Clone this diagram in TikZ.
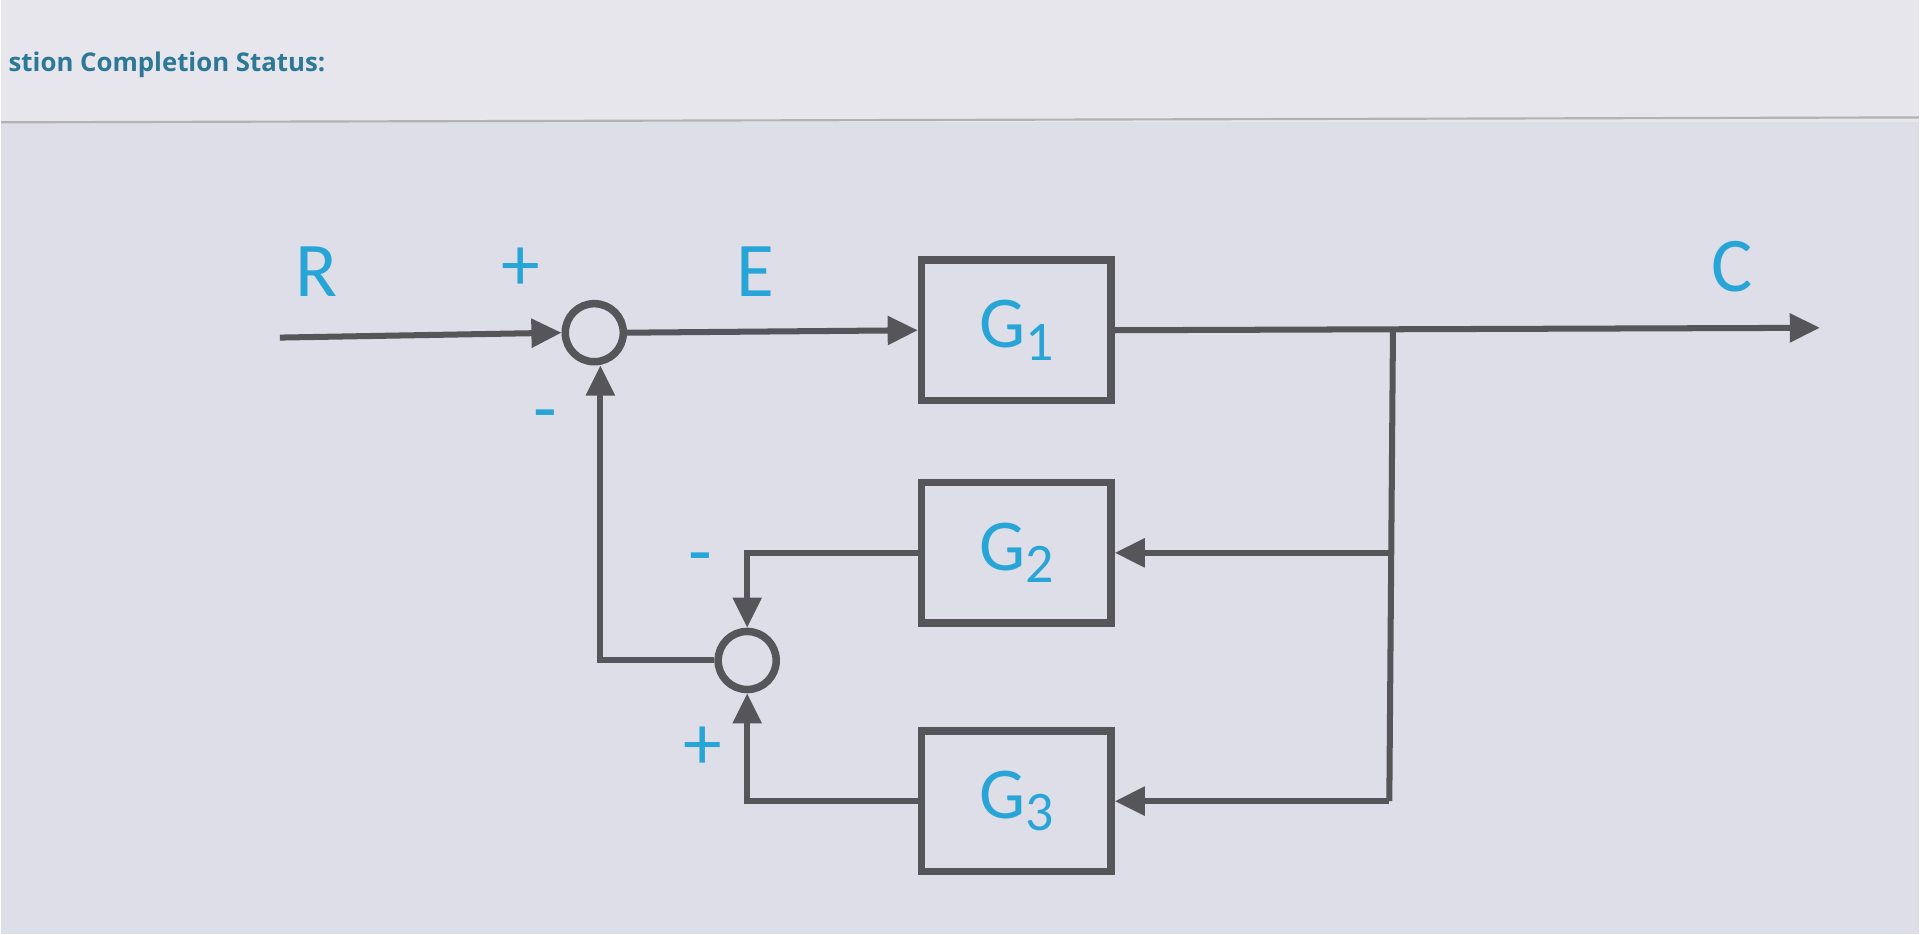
\documentclass[tikz,border=0pt]{standalone}
\usepackage{fontspec}
\setmainfont{Carlito}
\newfontfamily\hdr{Open Sans}
\usetikzlibrary{arrows.meta}
\definecolor{bg}{RGB}{222,222,232}
\definecolor{hd}{RGB}{230,230,236}
\definecolor{ln}{RGB}{85,85,90}
\definecolor{cy}{RGB}{40,165,215}
\definecolor{tl}{RGB}{45,120,150}
\newcommand{\sbx}[1]{\raisebox{-0.35ex}{\fontsize{26}{26}\selectfont #1}}
\begin{document}
\begin{tikzpicture}[x=0.02cm,y=-0.02cm,
  wire/.style={draw=ln,line width=2.8pt},
  arr/.style={wire,-{Triangle[length=14pt,width=13pt]}},
  blk/.style={draw=ln,line width=3.5pt,minimum width=3.1cm,minimum height=2.3cm,inner sep=0pt,font=\fontsize{34}{34}\selectfont,text=cy},
  sum/.style={circle,draw=ln,line width=3.5pt,minimum size=0.95cm,inner sep=0pt},
  lab/.style={text=cy,font=\fontsize{36}{36}\selectfont}]
\fill[bg] (0,0) rectangle (1568,764);
\fill[hd] (0,0) rectangle (1568,100);
\draw[gray!60,line width=1pt] (0,100) -- (1568,96);
\useasboundingbox (0,0) rectangle (1568,764);
\node[anchor=west,text=tl,font=\hdr\bfseries\fontsize{12}{12}\selectfont] (hdr) at (0,53) {stion Completion Status:};
\node[blk] (g1) at (830,270) {G\sbx{1}};
\node[blk] (g2) at (830,452) {G\sbx{2}};
\node[blk] (g3) at (830,655) {G\sbx{3}};
\node[sum] (s1) at (485,272) {};
\node[sum] (s2) at (610,540) {};
\coordinate (in) at (228,276);
\coordinate (out) at (1487,268);
\coordinate (br) at (1138,268);
\coordinate (br3) at (1135,655);
\node[lab] (R) at (258,222) {R};
\node[lab] (p1) at (425,220) {+};
\node[lab] (E) at (617,222) {E};
\node[lab] (C) at (1415,218) {C};
\node[lab] (m1) at (445,345) {-};
\node[lab] (m2) at (572,462) {-};
\node[lab] (p2) at (574,612) {+};
\draw[arr] (in) -- (s1.west);
\draw[arr] (s1.east) -- (g1.west);
\draw[arr] (g1.east) -- (out);
\draw[wire] (br) -- (br3);
\draw[arr] (br|-g2) -- (g2.east);
\draw[arr] (br3) -- (g3.east);
\draw[arr] (g2.west) -| (s2.north);
\draw[arr] (g3.west) -| (s2.south);
\draw[arr] (s2.west) -| (490,540) -- (s1.south-|490,0);
\end{tikzpicture}
\end{document}
